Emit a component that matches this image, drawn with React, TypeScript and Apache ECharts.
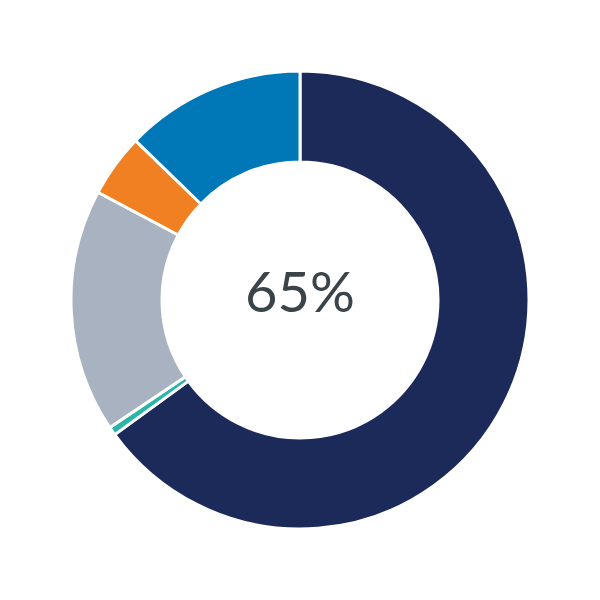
import React, { useEffect, useRef } from "react";
import * as echarts from "echarts";

const categories = ["Navy", "Teal", "Gray", "Orange", "Blue"];
const values = [65, 0.6, 17.2, 4.45, 12.75];
const colors = ["#1c2a5a", "#2bb5a8", "#a8b2c0", "#f08022", "#0077b6"];
const centerLabel = "65%";

export default function App() {
  const ref = useRef<HTMLDivElement>(null);
  useEffect(() => {
    if (!ref.current) return;
    const chart = echarts.init(ref.current, undefined, { renderer: "svg" });
    chart.setOption({
      animation: false,
      backgroundColor: "#ffffff",
      graphic: [
        {
          type: "text",
          left: "center",
          top: 262,
          style: {
            text: centerLabel,
            fontSize: 56,
            fontFamily: "Lato",
            fontWeight: "normal",
            fill: "#3b4449",
          },
        },
      ],
      series: [
        {
          type: "pie",
          center: [300, 300],
          radius: [138, 229],
          startAngle: 90,
          clockwise: true,
          label: { show: false },
          labelLine: { show: false },
          emphasis: { disabled: true },
          itemStyle: { borderColor: "#ffffff", borderWidth: 3 },
          data: categories.map((name, i) => ({
            name,
            value: values[i],
            itemStyle: { color: colors[i] },
          })),
        },
      ],
    });
    return () => chart.dispose();
  }, []);
  return (
    <div
      ref={ref}
      style={{ position: "absolute", left: 0, top: 0, width: 600, height: 600 }}
    />
  );
}
